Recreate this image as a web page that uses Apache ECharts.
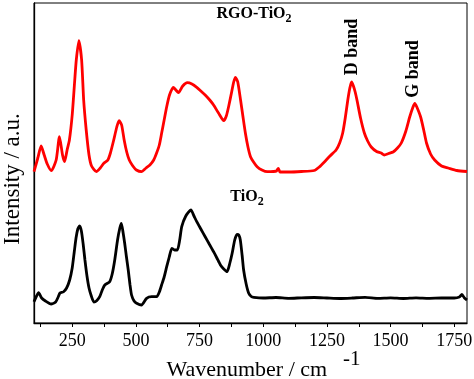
<!DOCTYPE html>
<html>
<head>
<meta charset="utf-8">
<script src="https://cdn.jsdelivr.net/npm/echarts@6/dist/echarts.min.js"></script>
<style>
html,body{margin:0;padding:0;background:#fff;}
#chart{width:474px;height:379px;}
</style>
</head>
<body>
<div id="chart"></div>
<script>
// Raman spectra (arbitrary intensity units)
const rgoWavenumber = [100,115,128,140,152,168,187,200,212,220,230,239,250,260,266,276,287,295,305,316,326,345,360,375,390,400,413,425,434,444,454,464,474,488,502,522,540,555,570,581,592,601,611,621,632,647,657,667,684,702,720,739,755,772,790,805,825,845,855,864,876,884,891,900,911,920,930,940,950,962,976,995,1016,1040,1052,1059,1066,1100,1150,1200,1220,1240,1262,1286,1300,1312,1322,1332,1340,1347,1354,1361,1368,1382,1397,1410,1424,1445,1463,1475,1492,1510,1527,1542,1560,1575,1588,1595,1603,1618,1630,1641,1657,1673,1700,1726,1760,1800];
const rgoIntensity = [151.3,165,177,168,159,152.3,163,186.3,168,161.3,173,183,208,243,263,282.3,263,223,193,168,157,151.3,155,160,163,170,183,196,202.3,198,183,171,163,157,153,151.3,155,158,163,169.7,178,189.7,203,216.3,228,235.7,233,230.3,237,240.3,239,235.7,232,228,223,218,209.7,202.3,207,216.3,231,241,245.7,241,223,207,189.7,176,166.3,161,156.3,153,151.3,151.5,152,154.7,151,151,151.5,152.5,156,161,167,173,180,190,205,223,235,241,237,231,223,205,190,182,176,171.5,170,168,169.5,171,175,180,192,206,216,219.7,216,206,193,180,169,163,157,155,152.5,151.5];

const tioWavenumber = [100,110,118,130,145,167,185,195,202,215,228,240,250,258,265,272,279,286,293,300,308,316,325,335,345,358,368,378,397,407,417,428,437,443,450,456,463,470,477,483,493,503,522,542,562,582,592,601,611,621,631,641,652,663,672,680,696,716,728,739,755,772,788,805,818,832,845,858,868,878,888,897,904,910,917,923,933,943,953,963,1000,1050,1100,1150,1200,1250,1300,1350,1400,1450,1500,1550,1600,1650,1700,1750,1770,1780,1790,1800];
const tioIntensity = [21.3,27,30.3,25,22,19,21,26,30,31,35,43,55,71,85,94,97,92,79,63,47,35,27,21,22,26.3,33,38,41.3,49,63,83,95,99.7,90,79.7,66,53,38,28,22,19.7,18,24.7,26.3,26.3,31,38,46,56.3,66,74.7,73,73,83,96.3,107,113,107,101.3,94,86.3,79,71.3,65,58,54,51.3,59,69.7,83,88.7,88,83,68,53,39,29.7,26.5,25.7,25,25.5,24.7,25.2,25.5,25,24.5,25,25.7,24.7,25.2,24.5,25.2,24.7,25,25,26,28.5,25,23];

const xTickValues = [125,250,375,500,625,750,875,1000,1125,1250,1375,1500,1625,1750];
const xLabelValues = [250,500,750,1000,1250,1500,1750];

const serif = "'Liberation Serif','Times New Roman',serif";
const pairs = (xs, ys) => xs.map((x, i) => [x, ys[i]]);

const chart = echarts.init(document.getElementById('chart'));
chart.setOption({
  animation: false,
  backgroundColor: '#fff',
  grid: {left: 34, right: 7, top: 3, bottom: 56, show: true, borderColor: '#000', borderWidth: 1,
         containLabel: false, outerBoundsMode: 'none'},
  xAxis: {
    type: 'value', min: 100, max: 1800,
    axisLine: {show: true, lineStyle: {color: '#000', width: 1.3}},
    axisTick: {show: true, length: 4, inside: false, customValues: xTickValues, lineStyle: {color: '#000', width: 1}},
    axisLabel: {customValues: xLabelValues, fontFamily: serif, fontSize: 18, color: '#000', margin: 9,
                formatter: v => String(v)},
    splitLine: {show: false},
    name: '{a|Wavenumber / cm}{b|-1}',
    nameLocation: 'middle',
    nameGap: 26,
    nameMoveOverlap: false,
    nameTextStyle: {
      padding: [0, 0, 0, 26],
      rich: {
        a: {fontFamily: serif, fontSize: 22, color: '#000', verticalAlign: 'bottom'},
        b: {fontFamily: serif, fontSize: 21, color: '#000', verticalAlign: 'bottom', padding: [0, 0, 11, 16]}
      }
    }
  },
  yAxis: {
    type: 'value', min: 0, max: 320,
    axisLine: {show: true, lineStyle: {color: '#000', width: 1.3}},
    axisTick: {show: false},
    axisLabel: {show: false},
    splitLine: {show: false},
    name: 'Intensity / a.u.',
    nameLocation: 'middle',
    nameGap: 10,
    nameMoveOverlap: false,
    nameTextStyle: {fontFamily: serif, fontSize: 23, color: '#000', padding: [0, 32, 0, 0]}
  },
  series: [
    {type: 'line', name: 'RGO-TiO2', data: pairs(rgoWavenumber, rgoIntensity), showSymbol: false, smooth: 0.2,
     lineStyle: {color: '#ff0000', width: 2.8}, itemStyle: {color: '#ff0000'}},
    {type: 'line', name: 'TiO2', data: pairs(tioWavenumber, tioIntensity), showSymbol: false, smooth: 0.2,
     lineStyle: {color: '#000', width: 2.8}, itemStyle: {color: '#000'}}
  ],
  graphic: [
    {type: 'text', x: 254, y: 15, style: {text: '{a|RGO-TiO}{b|2}', align: 'center', verticalAlign: 'middle',
      rich: {a: {fontFamily: serif, fontSize: 16, fontWeight: 'bold', fill: '#000', verticalAlign: 'top'},
             b: {fontFamily: serif, fontSize: 12, fontWeight: 'bold', fill: '#000', verticalAlign: 'top', padding: [7, 0, 0, 0]}}}},
    {type: 'text', x: 247, y: 198, style: {text: '{a|TiO}{b|2}', align: 'center', verticalAlign: 'middle',
      rich: {a: {fontFamily: serif, fontSize: 16, fontWeight: 'bold', fill: '#000', verticalAlign: 'top'},
             b: {fontFamily: serif, fontSize: 12, fontWeight: 'bold', fill: '#000', verticalAlign: 'top', padding: [7, 0, 0, 0]}}}},
    {type: 'text', x: 352, y: 47, rotation: Math.PI / 2, style: {text: 'D band', align: 'center', verticalAlign: 'middle',
      fontFamily: serif, fontSize: 18, fontWeight: 'bold', fill: '#000'}},
    {type: 'text', x: 413, y: 69, rotation: Math.PI / 2, style: {text: 'G band', align: 'center', verticalAlign: 'middle',
      fontFamily: serif, fontSize: 18, fontWeight: 'bold', fill: '#000'}}
  ]
});
</script>
</body>
</html>
